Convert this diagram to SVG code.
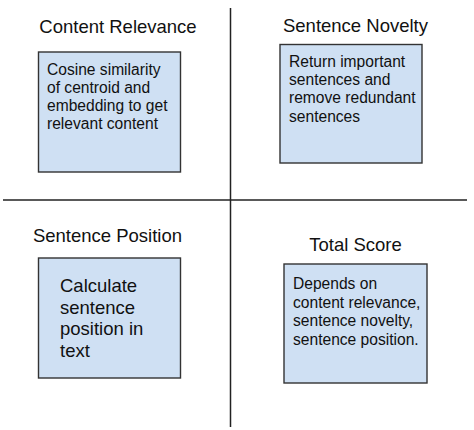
<svg xmlns="http://www.w3.org/2000/svg" width="474" height="430" viewBox="0 0 474 430">
<style>
.title{font-family:"Liberation Sans",Arial,sans-serif;font-size:18.5px;fill:#111;text-anchor:middle}
.body{font-family:"Liberation Sans",Arial,sans-serif;font-size:15.6px;fill:#111}
.big{font-family:"Liberation Sans",Arial,sans-serif;font-size:18.5px;fill:#111}
.box{fill:#cfe0f3;stroke:#333;stroke-width:1.4}
.axis{stroke:#222;stroke-width:1.5;fill:none}
</style>
<rect width="474" height="430" fill="#fff"/>
<g id="connectors">
<line class="axis" x1="230.5" y1="8" x2="230.5" y2="427"/>
<line class="axis" x1="3" y1="200" x2="467" y2="200"/>
</g>
<g id="content-relevance">
<text class="title" x="118" y="33">Content Relevance</text>
<rect class="box" x="38.5" y="52" width="142" height="120"/>
<text class="body" x="47" y="75">Cosine similarity</text>
<text class="body" x="47" y="93">of centroid and</text>
<text class="body" x="47" y="111">embedding to get</text>
<text class="body" x="47" y="129">relevant content</text>
</g>
<g id="sentence-novelty">
<text class="title" x="355.5" y="32">Sentence Novelty</text>
<rect class="box" x="280" y="44.5" width="142" height="118.5"/>
<text class="body" x="289" y="67">Return important</text>
<text class="body" x="289" y="85">sentences and</text>
<text class="body" x="289" y="103">remove redundant</text>
<text class="body" x="289" y="122">sentences</text>
</g>
<g id="sentence-position">
<text class="title" x="107.5" y="242">Sentence Position</text>
<rect class="box" x="38.5" y="258" width="142" height="120"/>
<text class="big" x="60" y="292">Calculate</text>
<text class="big" x="60" y="313.5">sentence</text>
<text class="big" x="60" y="335">position in</text>
<text class="big" x="60" y="357">text</text>
</g>
<g id="total-score">
<text class="title" x="355.5" y="251">Total Score</text>
<rect class="box" x="284" y="264" width="143" height="119"/>
<text class="body" x="293" y="289">Depends on</text>
<text class="body" x="293" y="307.5">content relevance,</text>
<text class="body" x="293" y="326">sentence novelty,</text>
<text class="body" x="293" y="344.5">sentence position.</text>
</g>
</svg>
